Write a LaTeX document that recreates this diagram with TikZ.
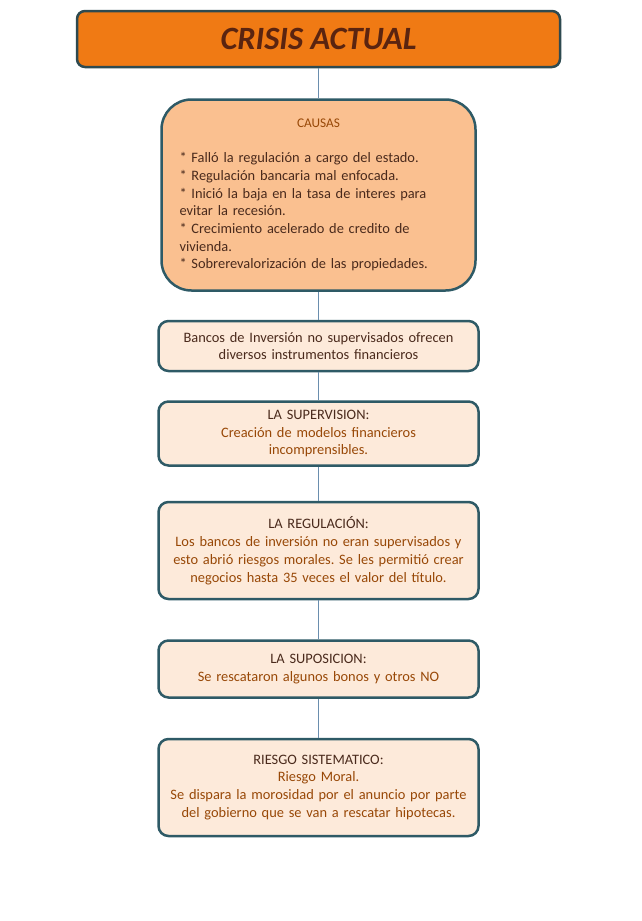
\documentclass[tikz,border=0pt]{standalone}
\usepackage{fontspec}
\setmainfont{Carlito}
\usetikzlibrary{positioning}
\frenchspacing
\definecolor{titlefill}{HTML}{F07A14}
\definecolor{titleline}{HTML}{2E4A50}
\definecolor{titletext}{HTML}{5A2410}
\definecolor{causefill}{HTML}{FAC090}
\definecolor{boxfill}{HTML}{FDEADA}
\definecolor{boxline}{HTML}{2E5A66}
\definecolor{headtext}{HTML}{4A2A1C}
\definecolor{bodytext}{HTML}{984807}
\definecolor{linkline}{HTML}{6A8EAE}

\begin{document}
\begin{tikzpicture}[
x=1pt,y=1pt,
title/.style={
  draw=titleline,
  line width=2.5pt,
  fill=titlefill,
  rounded corners=8pt,
  minimum width=483pt,
  minimum height=56pt,
  text=titletext,
  font=\fontsize{32.5}{36}\selectfont\bfseries\itshape
  },
cause/.style={
  draw=boxline,
  line width=2.5pt,
  fill=causefill,
  rounded corners=30pt,
  minimum width=314pt,
  minimum height=191pt,
  text width=278pt,
  inner xsep=18pt,
  align=left,
  text=headtext,
  font=\fontsize{14.4}{17.7}\selectfont
  },
box/.style={
  draw=boxline,
  line width=2.5pt,
  fill=boxfill,
  rounded corners=10pt,
  minimum width=320pt,
  text width=310pt,
  inner xsep=5pt,
  inner ysep=2pt,
  align=center,
  text=bodytext,
  font=\fontsize{14.4}{17.9}\selectfont
  },
link/.style={
  draw=linkline,
  line width=1pt
  }
]
\useasboundingbox[fill=white] (0,0) rectangle (641,-921);
\node[title] (crisis) at (318.5,-39) {CRISIS ACTUAL};
\node[cause, below=30pt of crisis] (causas)
  {\makebox[\linewidth]{\fontsize{13.3}{17.7}\selectfont\color{bodytext}CAUSAS}\\[17.7pt]
  {*} Falló la regulación a cargo del estado.\\
  {*} Regulación bancaria mal enfocada.\\
  {*} Inició la baja en la tasa de interes para\\
  evitar la recesión.\\
  {*} Crecimiento acelerado de credito de\\
  vivienda.\\
  {*} Sobrerevalorización de las propiedades.};
\node[box, minimum height=50pt, text=headtext, below=28pt of causas] (bancos)
  {Bancos de Inversión no supervisados ofrecen\\ diversos instrumentos financieros};
\node[box, minimum height=64pt, below=28pt of bancos] (supervision)
  {{\color{headtext}LA SUPERVISION:}\\ Creación de modelos financieros\\ incomprensibles.};
\node[box, minimum height=97pt, below=34pt of supervision] (regulacion)
  {{\color{headtext}LA REGULACIÓN:}\\ Los bancos de inversión no eran supervisados y\\
  esto abrió riesgos morales. Se les permitió crear\\ negocios hasta 35 veces el valor del título.};
\node[box, minimum height=57pt, below=39pt of regulacion] (suposicion)
  {{\color{headtext}LA SUPOSICION:}\\ Se rescataron algunos bonos y otros NO};
\node[box, minimum height=97pt, below=39pt of suposicion] (riesgo)
  {{\color{headtext}RIESGO SISTEMATICO:}\\ Riesgo Moral.\\
  Se dispara la morosidad por el anuncio por parte\\ del gobierno que se van a rescatar hipotecas.};
% connectors down the chain
\draw[link] (crisis.south -| causas.north) -- (causas.north);
\draw[link] (causas) -- (bancos);
\draw[link] (bancos) -- (supervision);
\draw[link] (supervision) -- (regulacion);
\draw[link] (regulacion) -- (suposicion);
\draw[link] (suposicion) -- (riesgo);
\end{tikzpicture}
\end{document}
